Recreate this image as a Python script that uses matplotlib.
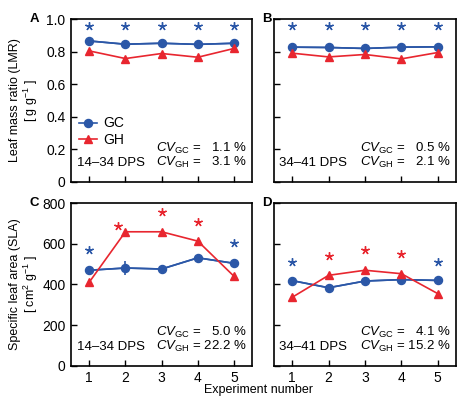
import matplotlib
matplotlib.use('Agg')
from matplotlib import pyplot as plt

plt.rcParams['font.family'] = ['Liberation Sans', 'DejaVu Sans']
plt.rcParams['mathtext.fontset'] = 'custom'
plt.rcParams['mathtext.rm'] = 'Liberation Sans'
plt.rcParams['mathtext.it'] = 'Liberation Sans:italic'

experimentos = [1, 2, 3, 4, 5]

# LMR
lmr_gc_a = [0.866, 0.846, 0.852, 0.845, 0.852]
lmr_gh_a = [0.805, 0.758, 0.789, 0.766, 0.820]
lmr_gc_b = [0.828, 0.826, 0.820, 0.828, 0.830]
lmr_gh_b = [0.791, 0.768, 0.783, 0.756, 0.795]

# SLA
sla_gc_c = [470, 481, 476, 531, 504]
sla_gc_c_err = [0, 32, 0, 0, 20]
sla_gh_c = [411, 659, 659, 613, 440]
sla_gc_d = [419, 384, 417, 424, 420]
sla_gh_d = [337, 445, 470, 453, 355]

# asteriscos de significancia (x, y, grupo)
estrelas_a = [(1, 0.96, 'gc'), (2, 0.96, 'gc'), (3, 0.96, 'gc'), (4, 0.96, 'gc'), (5, 0.96, 'gc')]
estrelas_b = [(1, 0.96, 'gc'), (2, 0.96, 'gc'), (3, 0.96, 'gc'), (4, 0.96, 'gc'), (5, 0.96, 'gc')]
estrelas_c = [(1, 570, 'gc'), (1.8, 688, 'gh'), (3, 754, 'gh'), (4, 706, 'gh'), (5, 603, 'gc')]
estrelas_d = [(1, 509, 'gc'), (2, 539, 'gh'), (3, 568, 'gh'), (4, 549, 'gh'), (5, 509, 'gc')]

cv_a = ('1.1', '3.1')
cv_b = ('0.5', '2.1')
cv_c = ('5.0', '22.2')
cv_d = ('4.1', '15.2')

azul = '#2b57a7'
vermelho = '#e8262f'
cores = {'gc': azul, 'gh': vermelho}

fig = plt.figure(figsize=(4.74, 3.99), dpi=100)
ax_a = fig.add_axes([0.150, 0.544, 0.382, 0.408])
ax_b = fig.add_axes([0.578, 0.544, 0.384, 0.408])
ax_c = fig.add_axes([0.150, 0.083, 0.382, 0.408])
ax_d = fig.add_axes([0.578, 0.083, 0.384, 0.408])


def desenha(ax, gc, gh, estrelas, cv, dps, letra, letra_x, ylim, yticks, gc_err=None):
    ax.errorbar(experimentos, gc, yerr=gc_err, color=azul, marker=None, lw=1.2,
                elinewidth=1.2, capsize=0, zorder=3)
    l_gc, = ax.plot(experimentos, gc, color=azul, marker='o', markersize=5.8, lw=1.2,
                    label='GC', zorder=4)
    l_gh, = ax.plot(experimentos, gh, color=vermelho, marker='^', markersize=5.8, lw=1.2,
                    label='GH', zorder=4)
    for x, y, c in estrelas:
        ax.plot(x, y, marker=(5, 2, 0), color=cores[c], markersize=6, mew=1.0, ls='none')
    ax.set_xlim(0.5, 5.5)
    ax.set_ylim(*ylim)
    ax.set_yticks(yticks)
    ax.set_xticks(experimentos)
    ax.tick_params(direction='in', length=4, width=1, labelsize=10, pad=4)
    for s in ax.spines.values():
        s.set_linewidth(1.2)
    ax.text(0.03, 0.117, dps, transform=ax.transAxes, fontsize=9.5, ha='left', va='center')
    ax.text(0.97, 0.205, r'$\mathit{CV}_{\mathrm{GC}}$ = ' + cv[0].rjust(4, '\u2007') + ' %',
            transform=ax.transAxes, fontsize=9.5, ha='right', va='center')
    ax.text(0.97, 0.117, r'$\mathit{CV}_{\mathrm{GH}}$ = ' + cv[1].rjust(4, '\u2007') + ' %',
            transform=ax.transAxes, fontsize=9.5, ha='right', va='center')
    ax.text(letra_x, 1.0, letra, transform=ax.transAxes, fontsize=9.5, fontweight='bold',
            ha='left', va='center')
    return l_gc, l_gh


handles = desenha(ax_a, lmr_gc_a, lmr_gh_a, estrelas_a, cv_a, '14–34 DPS', 'A', -0.23, (0, 1.0),
                  [0, 0.2, 0.4, 0.6, 0.8, 1.0])
desenha(ax_b, lmr_gc_b, lmr_gh_b, estrelas_b, cv_b, '34–41 DPS', 'B', -0.066, (0, 1.0),
        [0, 0.2, 0.4, 0.6, 0.8, 1.0])
desenha(ax_c, sla_gc_c, sla_gh_c, estrelas_c, cv_c, '14–34 DPS', 'C', -0.23, (0, 800),
        [0, 200, 400, 600, 800], gc_err=sla_gc_c_err)
desenha(ax_d, sla_gc_d, sla_gh_d, estrelas_d, cv_d, '34–41 DPS', 'D', -0.066, (0, 800),
        [0, 200, 400, 600, 800])

ax_a.set_yticklabels(['0', '0.2', '0.4', '0.6', '0.8', '1.0'])
ax_a.tick_params(labelbottom=False)
ax_b.tick_params(labelbottom=False, labelleft=False)
ax_d.tick_params(labelleft=False)

ax_a.set_ylabel('Leaf mass ratio (LMR)\n[ g g$^{-1}$ ]', fontsize=9, linespacing=1.1)
ax_c.set_ylabel('Specific leaf area (SLA)\n[ cm$^{2}$ g$^{-1}$ ]', fontsize=9, linespacing=1.1)
ax_a.yaxis.set_label_coords(-0.17, 0.5)
ax_c.yaxis.set_label_coords(-0.17, 0.5)

ax_a.legend(handles=list(handles), loc='center left', bbox_to_anchor=(0.0, 0.31), frameon=False,
            fontsize=10, handlelength=1.3, handletextpad=0.4, labelspacing=0.15, borderaxespad=0.2)

fig.text(0.546, 0.022, 'Experiment number', fontsize=9, ha='center', va='center')

plt.savefig('out.png', dpi=100)
